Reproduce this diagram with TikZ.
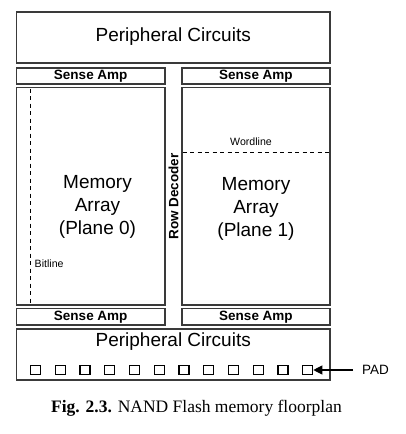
\documentclass[tikz,border=0pt]{standalone}
\usepackage{fontspec}
\setmainfont{Liberation Sans}
\newfontfamily\capfont{Liberation Serif}
\usetikzlibrary{arrows.meta}
\definecolor{edge}{HTML}{3A3A3A}
\tikzset{
  blk/.style={draw=edge, line width=1.4pt, inner sep=0pt},
  bigtxt/.style={font=\fontsize{19}{23}\selectfont, align=center, inner sep=0pt},
  satxt/.style={font=\fontsize{13.5}{16}\selectfont\bfseries, inner sep=0pt},
  smalltxt/.style={font=\fontsize{10.6}{12}\selectfont, inner sep=0pt},
  padbox/.style={draw=black, line width=1.1pt, minimum width=10pt, minimum height=9.5pt, inner sep=0pt},
  dline/.style={draw=black, line width=1pt, dash pattern=on 4pt off 3.5pt},
}
\begin{document}
\begin{tikzpicture}[x=1pt,y=-1pt]
\useasboundingbox (0,0) rectangle (405,434);
% top peripheral
\draw[blk] (16.5,12) rectangle (330,63);
\node[bigtxt] (pt) at (173.25,37) {Peripheral Circuits};
% top sense amps
\draw[blk] (16.5,68) rectangle (165,84);
\node[satxt] (sa1) at (90.75,76.5) {Sense Amp};
\draw[blk] (182,68) rectangle (330,84);
\node[satxt] (sa2) at (256,76.5) {Sense Amp};
% arrays
\draw[blk] (16.5,87.5) rectangle (165,305);
\draw[blk] (182,87.5) rectangle (330,305);
\node[bigtxt] (m0) at (97.5,207) {Memory\\Array\\(Plane 0)};
\node[bigtxt] (m1) at (256,209) {Memory\\Array\\(Plane 1)};
\node[satxt, rotate=90] (rd) at (173.5,196.5) {Row Decoder};
% bitline / wordline
\coordinate (bt) at (30.7,88.5);
\coordinate (bb) at (30.7,304);
\draw[dline] (bt) -- (bb);
\node[smalltxt, anchor=west] (bl) at (34.5,264) {Bitline};
\coordinate (wl) at (182.5,152);
\coordinate (wr) at (329.5,152);
\draw[dline] (wl) -- (wr);
\node[smalltxt] (wlt) at (251,142) {Wordline};
% bottom sense amps
\draw[blk] (16.5,308.5) rectangle (165,325);
\node[satxt] (sa3) at (90.75,317) {Sense Amp};
\draw[blk] (182,308.5) rectangle (330,325);
\node[satxt] (sa4) at (256,317) {Sense Amp};
% bottom peripheral
\draw[blk] (16.5,329) rectangle (330,380);
\node[bigtxt] (pb) at (173.25,342) {Peripheral Circuits};
\foreach \i in {0,...,11}{
  \node[padbox] (p\i) at ({35.5+24.75*\i},370) {};
}
\node[font=\fontsize{13.5}{16}\selectfont, inner sep=0pt, anchor=west] (pad) at (362,370) {PAD};
\draw[line width=1.1pt, -{Triangle[length=9pt,width=9pt]}] (pad.west) ++(-9pt,0) coordinate (ps) -- (p11.east);
% caption
\node[font=\capfont\fontsize{17.5}{20}\selectfont, inner sep=0pt] (cap) at (196.5,408) {\textbf{Fig. 2.3.} NAND Flash memory floorplan};
\end{tikzpicture}
\end{document}
